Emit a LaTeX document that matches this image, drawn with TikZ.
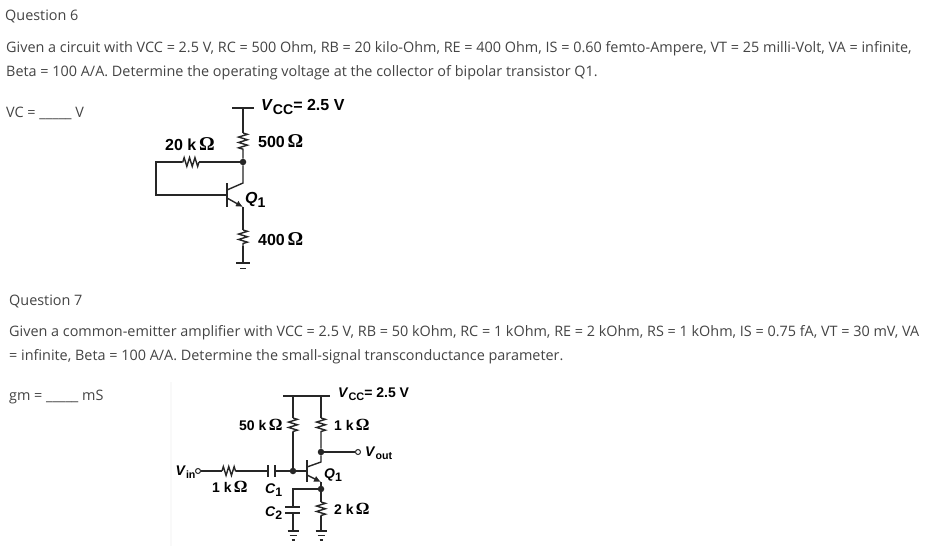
\documentclass[tikz,border=0pt]{standalone}
\usepackage{graphicx}
\usepackage{fontspec}
\setmainfont{Open Sans}
\newfontfamily\labelfont{Liberation Sans}
\newfontfamily\ohmfont{Liberation Serif}
\usetikzlibrary{arrows.meta,decorations.pathmorphing}
\definecolor{bodytext}{HTML}{444444}
\definecolor{wirecol}{HTML}{262626}
\definecolor{seamcol}{HTML}{F9F9F9}
\newcommand{\kohm}{{\,\ohmfont\bfseries\scalebox{1.22}{\char"03A9}}}
\newcommand{\vsub}[3][0.88]{\textit{#2}\raisebox{-0.5ex}{\scalebox{#1}{#3}}}
\tikzset{
    para/.style = {anchor = base west, inner sep = 0, text = bodytext, font = \fontsize{14.4}{16}\selectfont},
    lbl/.style = {anchor = base west, inner sep = 0, text = black, font = \fontsize{16}{18}\selectfont\labelfont\bfseries},
    lblsmall/.style = {lbl, font = \fontsize{14}{16}\selectfont\labelfont\bfseries},
    wire/.style = {draw = wirecol, line width = 1.4pt},
    rail/.style = {draw = wirecol, line width = 2.6pt},
    bar/.style = {draw = wirecol, line width = 2.2pt},
    res/.style = {wire, decorate, decoration = {zigzag, amplitude = 4.4pt, segment length = 5.4pt}},
    emit/.style = {wire, -{Latex[length = 7pt, width = 6.5pt]}},
    dot/.style = {circle, fill = wirecol, inner sep = 0, minimum size = 6.5pt},
    port/.style = {circle, draw = wirecol, fill = white, line width = 1pt, inner sep = 0, minimum size = 5pt},
    ground/.pic = {
        \draw [rail, line width = 1.8pt] (-5.5, 0) -- (5.5, 0);
        \draw [rail, line width = 1.8pt] (-3.5, 4.5) -- (3.5, 4.5);
        \draw [rail, line width = 1.8pt] (-1.5, 9) -- (1.5, 9);
    }
}
\begin{document}
\begin{tikzpicture}[x = 1pt, y = -1pt]
    \useasboundingbox [fill = white] (0, 0) rectangle (946, 546);
    \fill [seamcol] (170, 382) rectangle (172, 546);

    % page text
    \node [para] (q6) at (5, 20) {Question 6};
    \node [para] (q6a) at (6, 52) {Given a circuit with VCC = 2.5 V, RC = 500 Ohm, RB = 20 kilo-Ohm, RE = 400 Ohm, IS = 0.60 femto-Ampere, VT = 25 milli-Volt, VA = infinite,};
    \node [para] (q6b) at (6, 76) {Beta = 100 A/A. Determine the operating voltage at the collector of bipolar transistor Q1.};
    \node [para] (q6v) at (6, 117) {VC = \_\_\_\_\_ V};
    \node [para] (q7) at (9, 305) {Question 7};
    \node [para] (q7a) at (9, 336) {Given a common-emitter amplifier with VCC = 2.5 V, RB = 50 kOhm, RC = 1 kOhm, RE = 2 kOhm, RS = 1 kOhm, IS = 0.75 fA, VT = 30 mV, VA};
    \node [para] (q7b) at (9, 360) {= infinite, Beta = 100 A/A. Determine the small-signal transconductance parameter.};
    \node [para] (q7v) at (9, 400) {gm = \_\_\_\_\_ mS};

    % first circuit
    \coordinate (vl) at (232, 108);
    \coordinate (vr) at (254, 108);
    \coordinate (vm) at (243, 108);
    \coordinate (rct) at (243, 133);
    \coordinate (rcb) at (243, 150);
    \coordinate (cq) at (243, 183);
    \coordinate (bt) at (227, 183);
    \coordinate (bb) at (227, 207);
    \coordinate (bc) at (227, 190);
    \coordinate (be) at (227, 198);
    \coordinate (b) at (227, 195);
    \coordinate (e) at (243, 207);
    \coordinate (ret) at (243, 230);
    \coordinate (reb) at (243, 246);
    \coordinate (gndl) at (236, 263);
    \coordinate (gndr) at (250, 263);
    \coordinate (gndm) at (243, 263);
    \coordinate (gnbl) at (240, 268.5);
    \coordinate (gnbr) at (246, 268.5);
    \coordinate (ltop) at (156, 162);
    \coordinate (lbot) at (156, 195);
    \coordinate (rbl) at (182, 162);
    \coordinate (rbr) at (199, 162);
    \node [dot] (cnode) at (243, 162) {};

    \draw [rail] (vl) -- (vr);
    \draw [wire] (vm) -- (rct);
    \draw [res] (rct) -- (rcb);
    \draw [wire] (rcb) -- (cnode) -- (cq) -- (bc);
    \draw [bar] (bt) -- (bb);
    \draw [wire] (cnode) -- (rbr);
    \draw [res] (rbr) -- (rbl);
    \draw [wire] (rbl) -- (ltop) -- (lbot) -- (b);
    \draw [emit] (be) -- (e);
    \draw [wire] (e) -- (ret);
    \draw [res] (ret) -- (reb);
    \draw [wire] (reb) -- (gndm);
    \draw [rail, line width = 1.8pt] (gndl) -- (gndr);
    \draw [rail, line width = 1.8pt] (gnbl) -- (gnbr);

    \node [lbl] (vcc) at (261, 110) {\vsub{V}{CC}= 2.5 V};
    \node [lbl] (rcl) at (258, 147) {500\kohm};
    \node [lbl] (rbt) at (165, 150) {20 k\kohm};
    \node [lbl] (qa) at (245, 203) {\vsub{Q}{1}};
    \node [lbl] (rel) at (258, 245) {400\kohm};

    % second circuit
    \coordinate (svl) at (283, 396);
    \coordinate (svr) at (330, 396);
    \coordinate (sva) at (293, 396);
    \coordinate (svb) at (321, 396);
    \coordinate (sra) at (293, 418);
    \coordinate (srb) at (293, 432);
    \coordinate (src) at (321, 418);
    \coordinate (srd) at (321, 432);
    \node [dot] (sb) at (293, 471) {};
    \node [dot] (sc) at (321, 452) {};
    \node [dot] (se) at (321, 489) {};
    \node [port] (vout) at (358, 452) {};
    \node [port] (vin) at (198, 471) {};
    \coordinate (scq) at (321, 462);
    \coordinate (sbt) at (307, 460);
    \coordinate (sbb) at (307, 482);
    \coordinate (sbm) at (307, 471);
    \coordinate (sbc) at (307, 467);
    \coordinate (sbe) at (307, 475);
    \coordinate (seq) at (321, 482);
    \coordinate (sia) at (222, 471);
    \coordinate (sib) at (236, 471);
    \coordinate (cal) at (268, 471);
    \coordinate (car) at (275, 471);
    \coordinate (calt) at (268, 465);
    \coordinate (calb) at (268, 477);
    \coordinate (cart) at (275, 465);
    \coordinate (carb) at (275, 477);
    \coordinate (cbc) at (293, 489);
    \coordinate (cbt) at (293, 507);
    \coordinate (cbb) at (293, 513);
    \coordinate (cbtl) at (285, 507);
    \coordinate (cbtr) at (300, 507);
    \coordinate (cbbl) at (285, 513);
    \coordinate (cbbr) at (300, 513);
    \coordinate (sre) at (321, 502);
    \coordinate (srf) at (321, 516);
    \coordinate (gl) at (293, 531);
    \coordinate (gr) at (321, 531);

    \draw [rail] (svl) -- (svr);
    \draw [wire] (sva) -- (sra);
    \draw [res] (sra) -- (srb);
    \draw [wire] (srb) -- (sb);
    \draw [wire] (svb) -- (src);
    \draw [res] (src) -- (srd);
    \draw [wire] (srd) -- (sc) -- (scq) -- (sbc);
    \draw [wire] (sc) -- (vout);
    \draw [wire] (vin) -- (sia);
    \draw [res] (sia) -- (sib);
    \draw [wire] (sib) -- (cal);
    \draw [bar, line width = 1.8pt] (calt) -- (calb);
    \draw [bar, line width = 1.8pt] (cart) -- (carb);
    \draw [wire] (car) -- (sb) -- (sbm);
    \draw [bar] (sbt) -- (sbb);
    \draw [emit] (sbe) -- (seq);
    \draw [wire] (seq) -- (se) -- (sre);
    \draw [res] (sre) -- (srf);
    \draw [wire] (srf) -- (gr);
    \draw [wire] (se) -- (cbc) -- (cbt);
    \draw [bar, line width = 1.8pt] (cbtl) -- (cbtr);
    \draw [bar, line width = 1.8pt] (cbbl) -- (cbbr);
    \draw [wire] (cbb) -- (gl);
    \pic at (gl) {ground};
    \pic at (gr) {ground};

    \node [lblsmall] (svcc) at (338, 397) {\vsub[0.78]{V}{CC}= 2.5 V};
    \node [lblsmall] (rbn) at (239, 430) {50 k\kohm};
    \node [lblsmall] (rcn) at (334, 430) {1 k\kohm};
    \node [lblsmall] (von) at (365, 456) {\vsub[0.76]{V}{out}};
    \node [lblsmall] (vinl) at (175.5, 475) {\vsub[0.76]{V}{in}};
    \node [lblsmall] (qb) at (324, 478) {\vsub{Q}{1}};
    \node [lblsmall] (rsn) at (212, 492) {1 k\kohm};
    \node [lblsmall] (can) at (265, 493) {\vsub{C}{1}};
    \node [lblsmall] (cbn) at (265, 516) {\vsub{C}{2}};
    \node [lblsmall] (ren) at (334, 514) {2 k\kohm};
\end{tikzpicture}
\end{document}
